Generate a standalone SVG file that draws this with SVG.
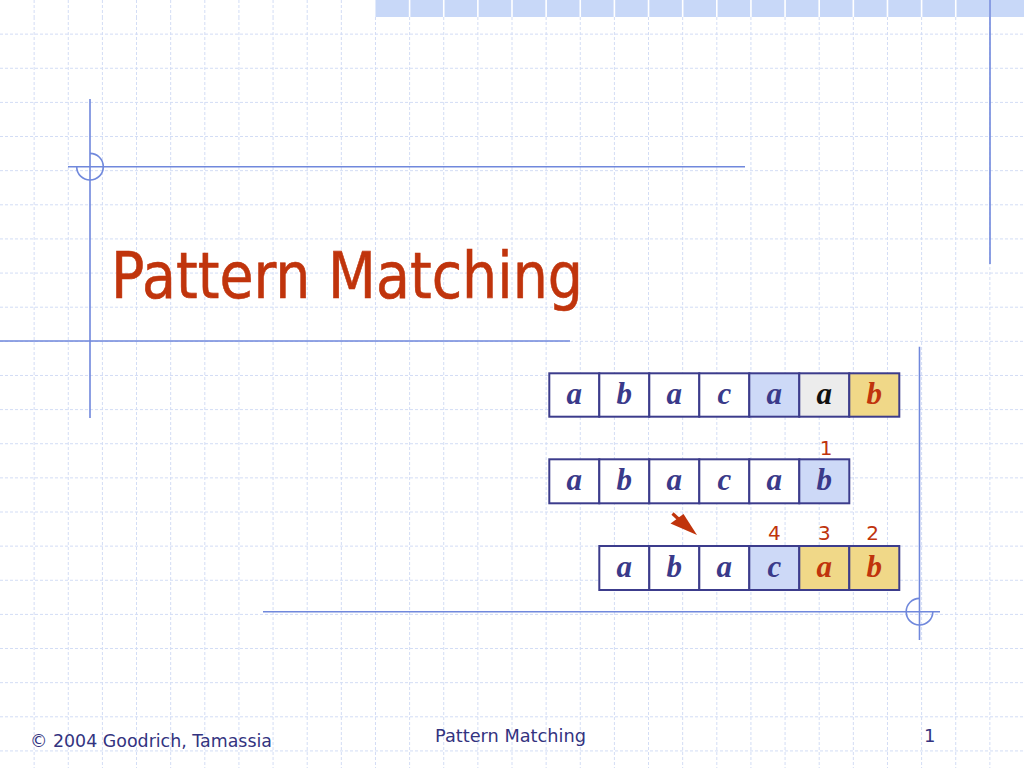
<svg xmlns="http://www.w3.org/2000/svg" width="1024" height="768" viewBox="0 0 1024 768">
<defs>
<style>
.grid{fill:none;stroke:#d3ddf5;stroke-width:1;stroke-dasharray:3,2}
.deco{fill:none;stroke:#7088dc;stroke-width:1.6}
.cell{stroke:#3c3c8c;stroke-width:2}
.w{fill:#ffffff}
.bl{fill:#cdd9f7}
.gr{fill:#ececec}
.go{fill:#f0d888}
.ch{font-family:"Liberation Serif","Times New Roman",serif;font-style:italic;font-weight:bold;font-size:31px;text-anchor:middle;fill:#3a3a8a}
.red{fill:#c0340c}
.blk{fill:#111111}
.num{font-family:"DejaVu Sans",Verdana,sans-serif;font-size:20px;text-anchor:middle;fill:#c0340c}
.foot{font-family:"DejaVu Sans",Verdana,sans-serif;font-size:18px;fill:#333380}
</style>
</defs>
<rect width="1024" height="768" fill="#ffffff"/>
<g id="background">
<rect x="375.47" y="0" width="648.53" height="17" fill="#c8d8f8"/>
<path d="M409.6,0V17M443.73,0V17M477.87,0V17M512,0V17M546.13,0V17M580.27,0V17M614.4,0V17M648.53,0V17M682.67,0V17M716.8,0V17M750.93,0V17M785.07,0V17M819.2,0V17M853.33,0V17M887.47,0V17M921.6,0V17M955.73,0V17M989.87,0V17" stroke="#ffffff" stroke-width="1.6" fill="none"/>
<path class="grid" d="M34.13,17V768M68.27,17V768M102.4,17V768M136.53,17V768M170.67,17V768M204.8,17V768M238.93,17V768M273.07,17V768M307.2,17V768M341.33,17V768M375.47,17V768M409.6,17V768M443.73,17V768M477.87,17V768M512,17V768M546.13,17V768M580.27,17V768M614.4,17V768M648.53,17V768M682.67,17V768M716.8,17V768M750.93,17V768M785.07,17V768M819.2,17V768M853.33,17V768M887.47,17V768M921.6,17V768M955.73,17V768M989.87,17V768M34.13,0V17M68.27,0V17M102.4,0V17M136.53,0V17M170.67,0V17M204.8,0V17M238.93,0V17M273.07,0V17M307.2,0V17M341.33,0V17M0,34.13H1024M0,68.27H1024M0,102.4H1024M0,136.53H1024M0,170.67H1024M0,204.8H1024M0,238.93H1024M0,273.07H1024M0,307.2H1024M0,341.33H1024M0,375.47H1024M0,409.6H1024M0,443.73H1024M0,477.87H1024M0,512H1024M0,546.13H1024M0,580.27H1024M0,614.4H1024M0,648.53H1024M0,682.67H1024M0,716.8H1024M0,750.93H1024"/>
<path class="deco" d="M90,99V418M68,166.7H745M0,341H570M990,0V264M919.5,346.7V640M263,611.7H940"/>
<path class="deco" d="M90,153.4A13.3,13.3 0 1 1 76.7,166.7"/>
<path class="deco" d="M919.5,598.4A13.3,13.3 0 1 0 932.8,611.7"/>
</g>
<g id="title">
<text x="111" y="298.3" font-family="DejaVu Sans, Verdana, sans-serif" font-size="64" fill="#c0340c" stroke="#c0340c" stroke-width="0.6" textLength="472" lengthAdjust="spacingAndGlyphs">Pattern Matching</text>
</g>
<g id="text-row">
<rect class="cell w" x="549.3" y="373.3" width="50" height="43.4"/>
<rect class="cell w" x="599.3" y="373.3" width="50" height="43.4"/>
<rect class="cell w" x="649.3" y="373.3" width="50" height="43.4"/>
<rect class="cell w" x="699.3" y="373.3" width="50" height="43.4"/>
<rect class="cell bl" x="749.3" y="373.3" width="50" height="43.4"/>
<rect class="cell gr" x="799.3" y="373.3" width="50" height="43.4"/>
<rect class="cell go" x="849.3" y="373.3" width="50" height="43.4"/>
<text class="ch" x="574.3" y="404.3">a</text>
<text class="ch" x="624.3" y="404.3">b</text>
<text class="ch" x="674.3" y="404.3">a</text>
<text class="ch" x="724.3" y="404.3">c</text>
<text class="ch" x="774.3" y="404.3">a</text>
<text class="ch blk" x="824.3" y="404.3">a</text>
<text class="ch red" x="874.3" y="404.3">b</text>
</g>
<g id="pattern-row-1">
<rect class="cell w" x="549.3" y="459.3" width="50" height="44"/>
<rect class="cell w" x="599.3" y="459.3" width="50" height="44"/>
<rect class="cell w" x="649.3" y="459.3" width="50" height="44"/>
<rect class="cell w" x="699.3" y="459.3" width="50" height="44"/>
<rect class="cell w" x="749.3" y="459.3" width="50" height="44"/>
<rect class="cell bl" x="799.3" y="459.3" width="50" height="44"/>
<text class="ch" x="574.3" y="490">a</text>
<text class="ch" x="624.3" y="490">b</text>
<text class="ch" x="674.3" y="490">a</text>
<text class="ch" x="724.3" y="490">c</text>
<text class="ch" x="774.3" y="490">a</text>
<text class="ch" x="824.3" y="490">b</text>
<text class="num" x="826" y="455">1</text>
</g>
<g id="pattern-row-2">
<rect class="cell w" x="599.3" y="546" width="50" height="44"/>
<rect class="cell w" x="649.3" y="546" width="50" height="44"/>
<rect class="cell w" x="699.3" y="546" width="50" height="44"/>
<rect class="cell bl" x="749.3" y="546" width="50" height="44"/>
<rect class="cell go" x="799.3" y="546" width="50" height="44"/>
<rect class="cell go" x="849.3" y="546" width="50" height="44"/>
<text class="ch" x="624.3" y="576.7">a</text>
<text class="ch" x="674.3" y="576.7">b</text>
<text class="ch" x="724.3" y="576.7">a</text>
<text class="ch" x="774.3" y="576.7">c</text>
<text class="ch red" x="824.3" y="576.7">a</text>
<text class="ch red" x="874.3" y="576.7">b</text>
<text class="num" x="774.3" y="540">4</text>
<text class="num" x="824.3" y="540">3</text>
<text class="num" x="872.5" y="540">2</text>
</g>
<g id="connectors">
<line x1="672.5" y1="513.5" x2="679" y2="519.5" stroke="#c0340c" stroke-width="3.2"/>
<polygon points="670.5,523.5 683.5,514 697,535" fill="#c0340c"/>
</g>
<g id="footer">
<text class="foot" x="30" y="746.7" textLength="242" lengthAdjust="spacingAndGlyphs">© 2004 Goodrich, Tamassia</text>
<text class="foot" x="435" y="742" textLength="151" lengthAdjust="spacingAndGlyphs">Pattern Matching</text>
<text class="foot" x="924" y="742">1</text>
</g>
</svg>
